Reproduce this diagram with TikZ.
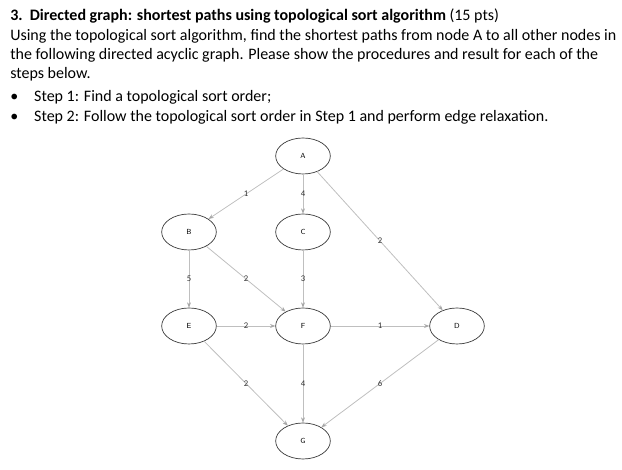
\documentclass[tikz,border=0pt]{standalone}
\usepackage{fontspec}
\setmainfont{Carlito}
\usetikzlibrary{arrows.meta,shapes.geometric}
\begin{document}
\begin{tikzpicture}[x=0.75pt,y=-0.75pt,
  gnode/.style={ellipse,draw=black!80,line width=0.5pt,minimum width=41pt,minimum height=27pt,inner sep=0pt,font=\sffamily\fontsize{5.5}{6}\selectfont,fill=white},
  gedge/.style={draw=black!25,line width=0.6pt,-{Stealth[length=4pt,width=3pt,black!35]}},
  wlab/.style={font=\fontsize{6.5}{7}\selectfont,inner sep=0.5pt,text=black!80},
  txt/.style={anchor=west,inner sep=0pt,font=\fontsize{12}{14}\selectfont}]
\useasboundingbox (0,0) rectangle (622,470);
\node[txt] (t1) at (10,16) {\textbf{3.\ \ Directed graph: shortest paths using topological sort algorithm} (15 pts)};
\node[txt] (t2) at (10,36) {Using the topological sort algorithm, find the shortest paths from node A to all other nodes in};
\node[txt] (t3) at (10,55) {the following directed acyclic graph. Please show the procedures and result for each of the};
\node[txt] (t4) at (10,74) {steps below.};
\node[txt] (b1) at (10,97) {\textbullet\hspace{12pt}Step 1: Find a topological sort order;};
\node[txt] (b2) at (10,117) {\textbullet\hspace{12pt}Step 2: Follow the topological sort order in Step 1 and perform edge relaxation.};
\node[gnode] (A) at (303,156) {A};
\node[gnode] (B) at (189,232) {B};
\node[gnode] (C) at (303,232) {C};
\node[gnode] (E) at (189,326) {E};
\node[gnode] (F) at (303,326) {F};
\node[gnode] (D) at (457,326) {D};
\node[gnode] (G) at (303,441) {G};
\draw[gedge] (A) -- node[wlab]{1} (B);
\draw[gedge] (A) -- node[wlab]{4} (C);
\draw[gedge] (A) -- node[wlab]{2} (D);
\draw[gedge] (B) -- node[wlab]{5} (E);
\draw[gedge] (B) -- node[wlab]{2} (F);
\draw[gedge] (C) -- node[wlab]{3} (F);
\draw[gedge] (E) -- node[wlab]{2} (F);
\draw[gedge] (F) -- node[wlab]{1} (D);
\draw[gedge] (E) -- node[wlab]{2} (G);
\draw[gedge] (F) -- node[wlab]{4} (G);
\draw[gedge] (D) -- node[wlab]{6} (G);
\end{tikzpicture}
\end{document}
